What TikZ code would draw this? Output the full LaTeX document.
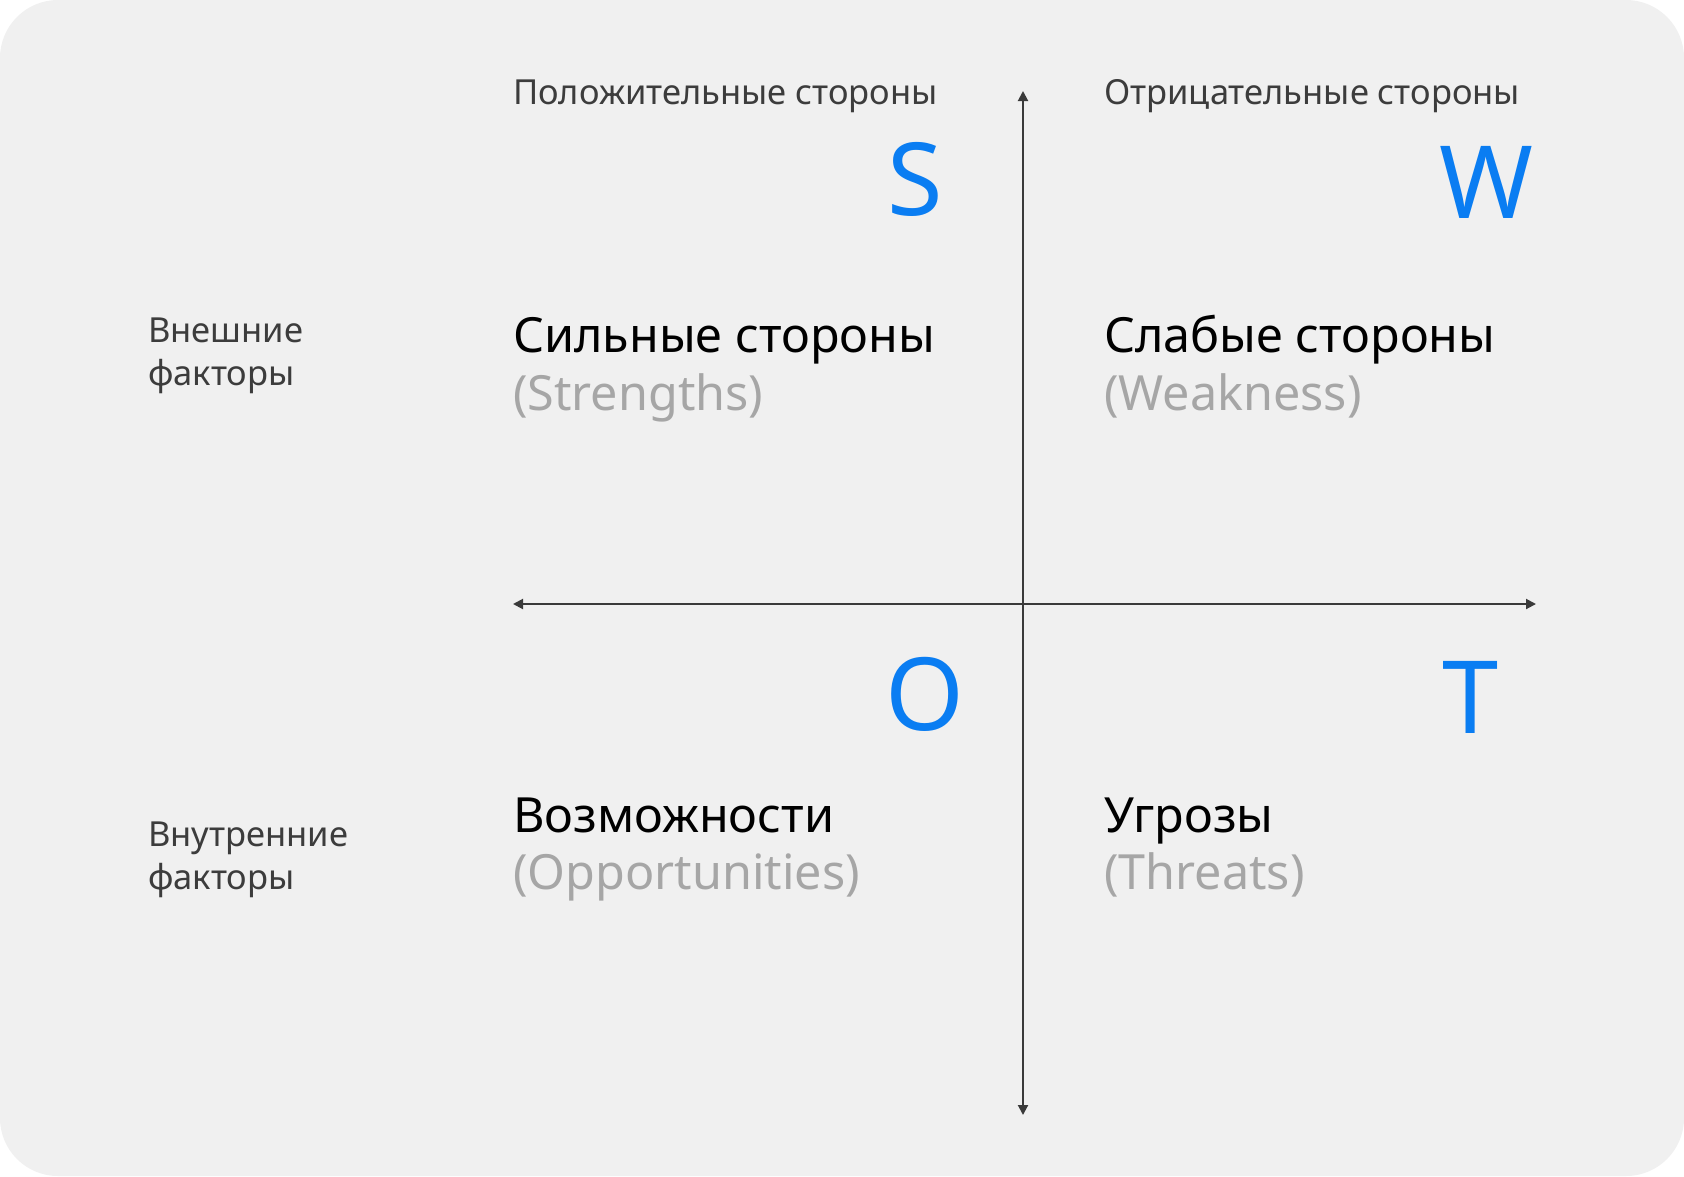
\documentclass[tikz,border=0pt]{standalone}
\usepackage{fontspec}
\setmainfont{Noto Sans}
\usetikzlibrary{arrows.meta}
\definecolor{bg}{HTML}{F0F0F0}
\definecolor{swotblue}{HTML}{0A7DF2}
\definecolor{darktxt}{HTML}{3C3C3C}
\definecolor{graytxt}{HTML}{A6A6A6}
\definecolor{axis}{HTML}{3A3A3A}
\tikzset{
  hdr/.style={anchor=base west, inner sep=0, text=darktxt, font=\fontsize{34.5}{43}\selectfont},
  side/.style={anchor=base west, inner sep=0, text=darktxt, align=left, font=\fontsize{34.5}{43}\selectfont},
  letter/.style={anchor=base east, inner sep=0, text=swotblue, font=\fontsize{101}{101}\selectfont},
  ttl/.style={anchor=base west, inner sep=0, text=black, font=\fontsize{48.5}{58}\selectfont},
  sub/.style={anchor=base west, inner sep=0, text=graytxt, font=\fontsize{48.5}{58}\selectfont},
  axisline/.style={draw=axis, line width=2pt, {Triangle[length=10pt,width=10pt]}-{Triangle[length=10pt,width=10pt]}}
}
\begin{document}
\begin{tikzpicture}[x=1pt,y=-1pt]
\useasboundingbox (0,0) rectangle (1684,1176);
\fill[white] (0,0) rectangle (1684,1176);
\fill[bg, rounded corners=58pt] (0,0) rectangle (1684,1176);

\coordinate (vtop) at (1023,91);
\coordinate (vbot) at (1023,1115);
\coordinate (hleft) at (513,604);
\coordinate (hright) at (1536,604);
\draw[axisline] (vbot) -- (vtop);
\draw[axisline] (hleft) -- (hright);

\node[hdr] (pos) at (513,104) {Положительные стороны};
\node[hdr] (neg) at (1104,104) {Отрицательные стороны};

\node[letter] (S) at (943,215) {S};
\node[letter] (W) at (1534,218) {W};
\node[letter] (O) at (965,730) {O};
\node[letter] (T) at (1499,733) {T};

\node[side] (ext) at (148,385) {Внешние\\факторы};
\node[side] (int) at (148,889) {Внутренние\\факторы};

\node[ttl] (st) at (513,352) {Сильные стороны};
\node[sub] (sts) at (513,410) {(Strengths)};
\node[ttl] (wk) at (1104,352) {Слабые стороны};
\node[sub] (wks) at (1104,410) {(Weakness)};
\node[ttl] (op) at (513,832) {Возможности};
\node[sub] (ops) at (513,889) {(Opportunities)};
\node[ttl] (th) at (1104,832) {Угрозы};
\node[sub] (ths) at (1104,889) {(Threats)};
\end{tikzpicture}
\end{document}
